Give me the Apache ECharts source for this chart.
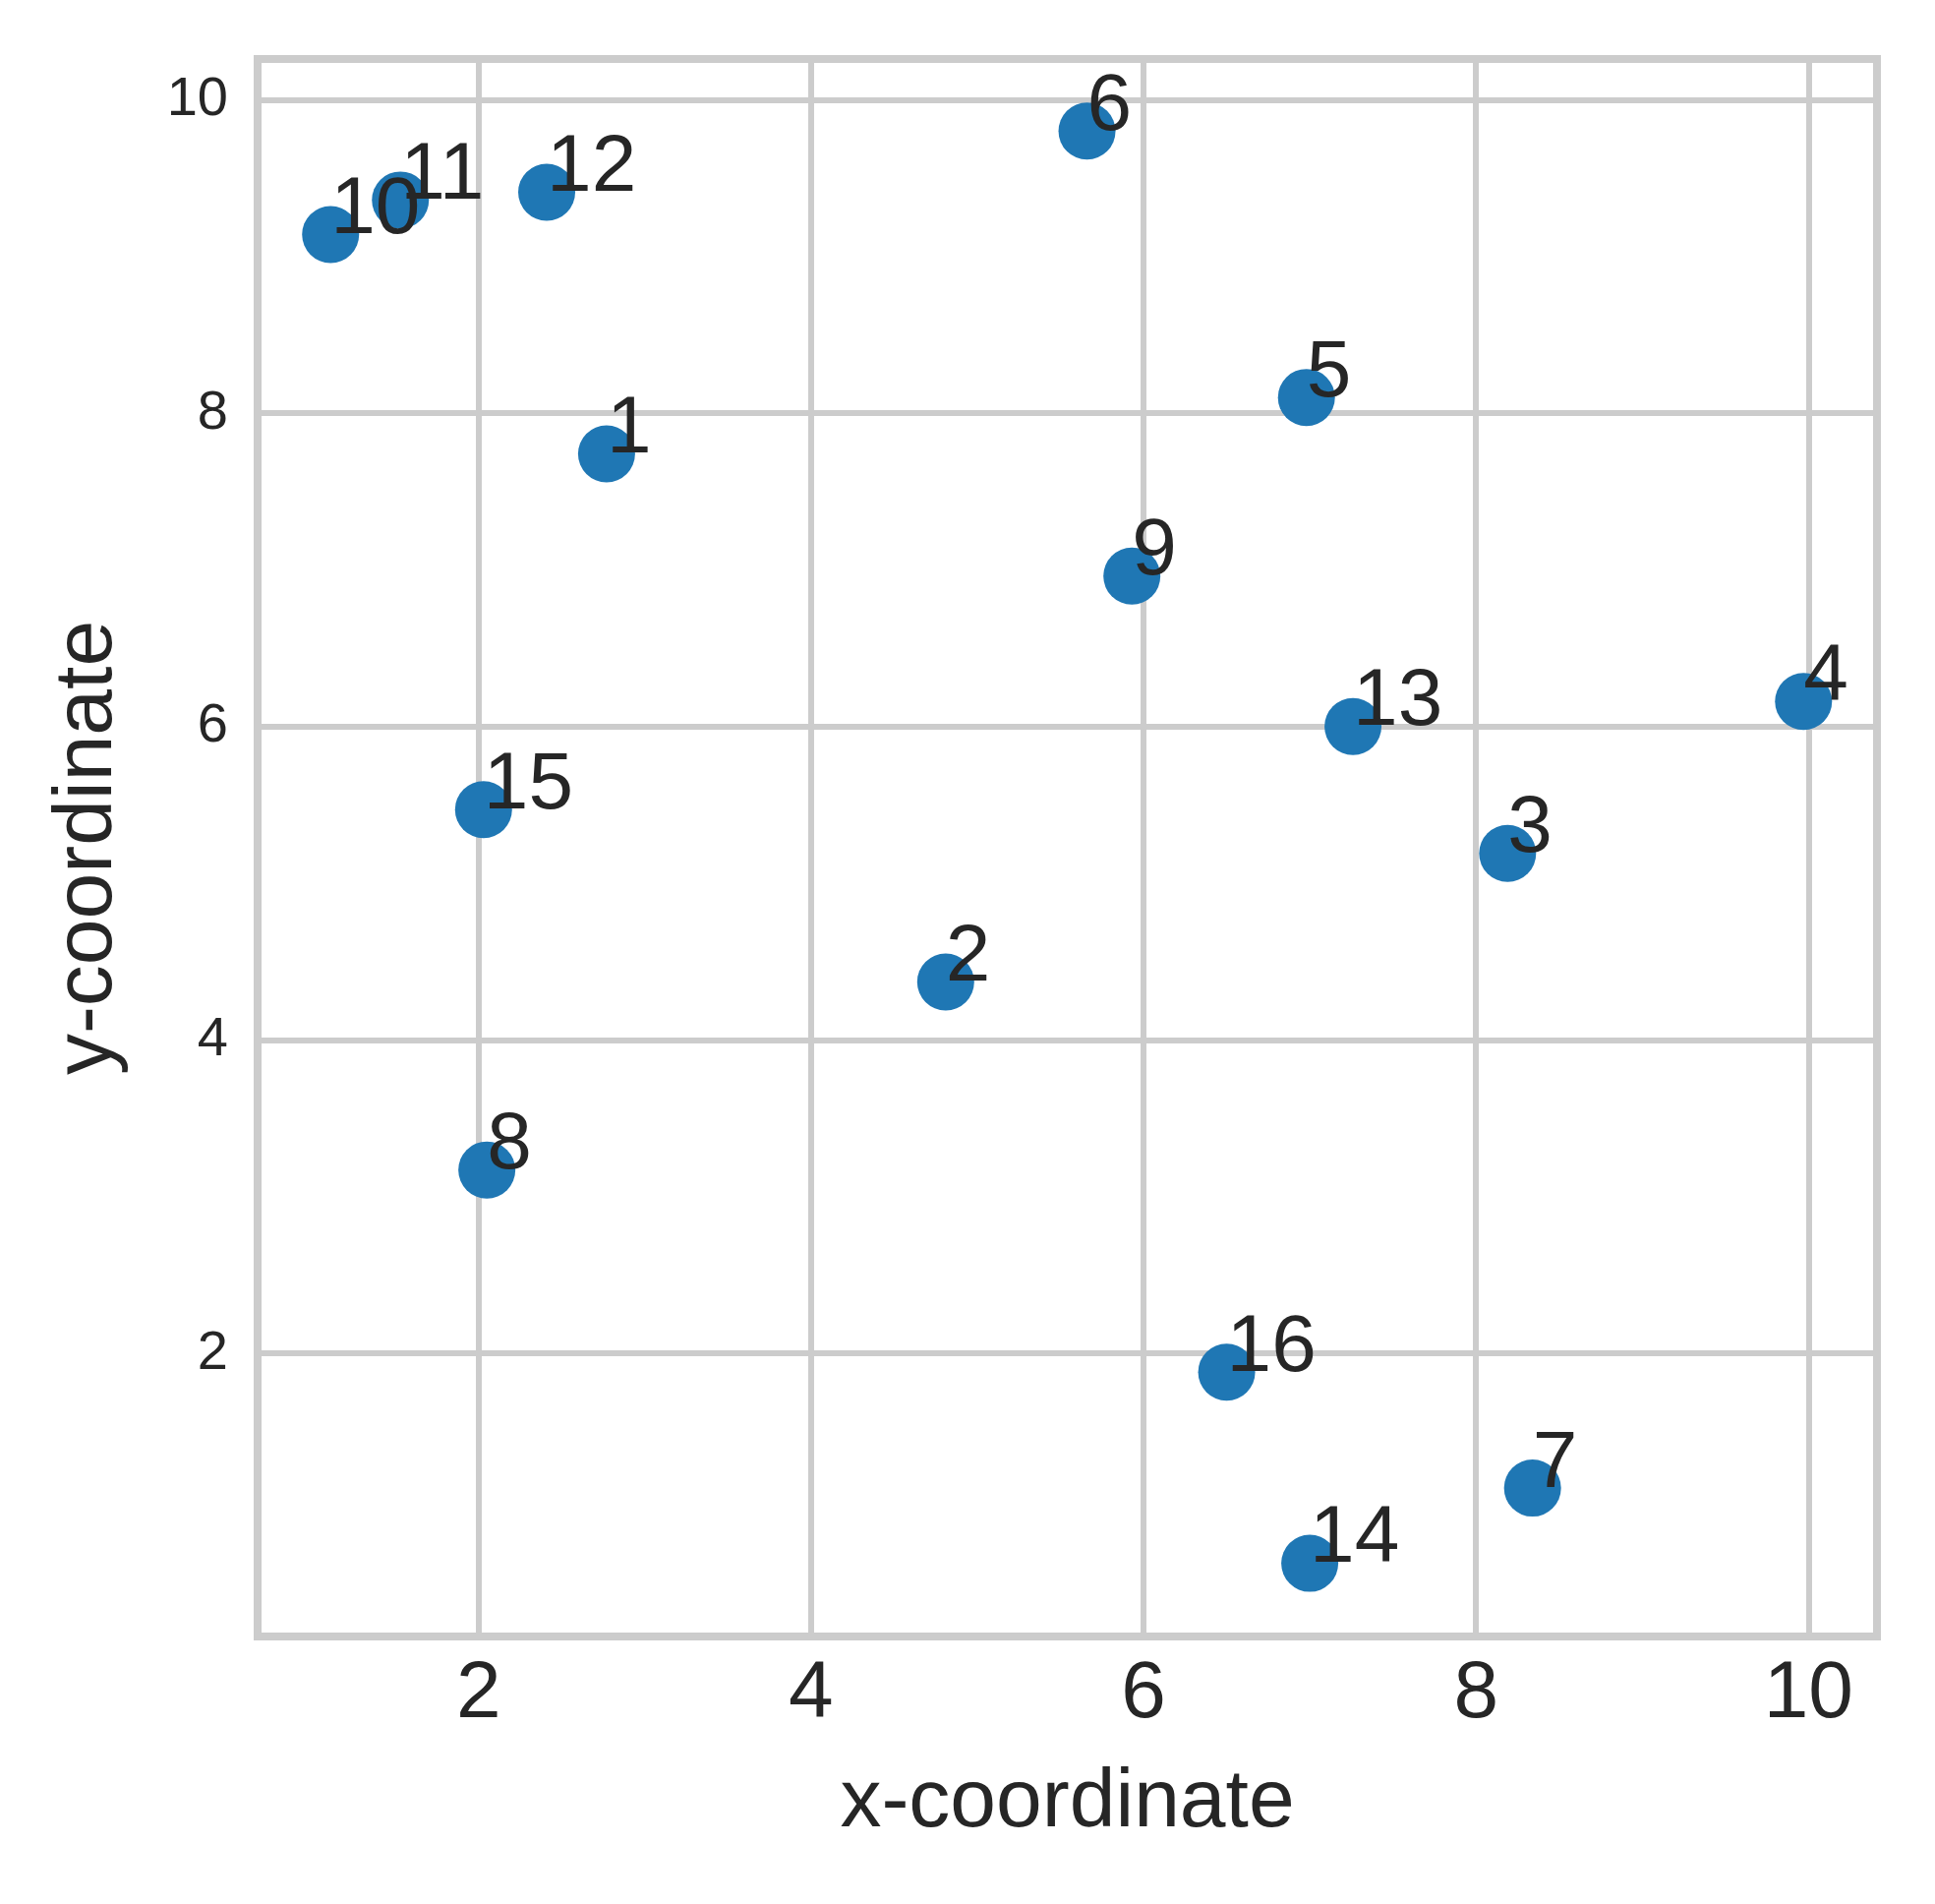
<!DOCTYPE html>
<html>
<head>
<meta charset="utf-8">
<script src="https://cdn.jsdelivr.net/npm/echarts@6/dist/echarts.min.js"></script>
<style>
  html, body { margin: 0; padding: 0; background: #fff; }
  #chart { width: 1968px; height: 1936px; }
</style>
</head>
<body>
<div id="chart"></div>
<script>
// point ids and coordinates
var ids = ['1', '2', '3', '4', '5', '6', '7', '8', '9', '10', '11', '12', '13', '14', '15', '16'];
var xs = [2.77, 4.81, 8.19, 9.97, 6.98, 5.66, 8.34, 2.05, 5.93, 1.11, 1.53, 2.41, 7.26, 7.00, 2.03, 6.50];
var ys = [7.74, 4.37, 5.19, 6.16, 8.10, 9.80, 1.14, 3.17, 6.96, 9.14, 9.36, 9.41, 6.00, 0.66, 5.47, 1.88];

var points = [];
for (var i = 0; i < ids.length; i++) {
    points.push({ value: [xs[i], ys[i]], name: ids[i] });
}

var chart = echarts.init(document.getElementById('chart'));
var font = 'Liberation Sans, Arial, sans-serif';

var option = {
    backgroundColor: '#ffffff',
    animation: false,
    grid: {
        left: 262, right: 59, top: 60, bottom: 272,
        show: true,
        borderColor: '#cccccc',
        borderWidth: 8
    },
    xAxis: {
        type: 'value',
        min: 0.671,
        max: 10.412,
        splitNumber: 5,
        name: 'x-coordinate',
        nameLocation: 'middle',
        nameGap: 128,
        nameTextStyle: { fontFamily: font, fontSize: 84, color: '#262626' },
        axisLine: { show: false },
        axisTick: { show: false },
        axisLabel: {
            fontFamily: font, fontSize: 82, color: '#262626', margin: 18,
            showMinLabel: false, showMaxLabel: false,
            formatter: function (v) { return v % 2 === 0 ? String(v) : ''; }
        },
        splitLine: { show: true, lineStyle: { color: '#cccccc', width: 6 } }
    },
    yAxis: {
        type: 'value',
        min: 0.193,
        max: 10.26,
        splitNumber: 5,
        name: 'y-coordinate',
        nameLocation: 'middle',
        nameGap: 130,
        nameTextStyle: { fontFamily: font, fontSize: 84, color: '#262626' },
        axisLine: { show: false },
        axisTick: { show: false },
        axisLabel: {
            fontFamily: font, fontSize: 56, color: '#262626', margin: 30,
            showMinLabel: false, showMaxLabel: false,
            formatter: function (v) { return v % 2 === 0 ? String(v) : ''; }
        },
        splitLine: { show: true, lineStyle: { color: '#cccccc', width: 6 } }
    },
    series: [{
        type: 'scatter',
        symbol: 'circle',
        symbolSize: 58,
        itemStyle: { color: '#1f77b4', opacity: 1 },
        label: {
            show: true,
            position: [29, 46],
            align: 'left',
            verticalAlign: 'bottom',
            fontFamily: font,
            fontSize: 82,
            color: '#262626',
            formatter: function (p) { return p.name; }
        },
        labelLayout: { hideOverlap: false },
        data: points
    }]
};

chart.setOption(option);
</script>
</body>
</html>
